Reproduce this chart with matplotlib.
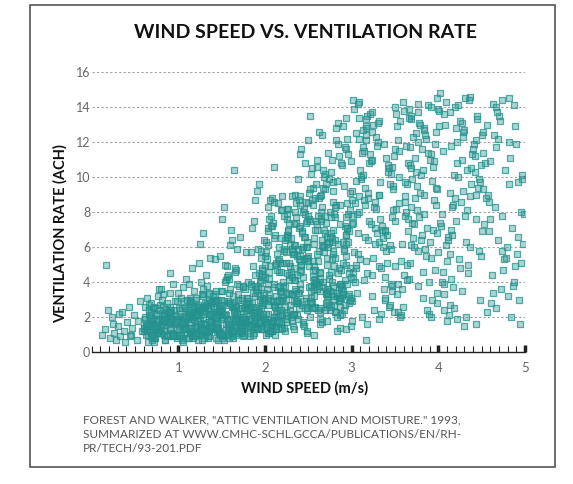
import matplotlib
matplotlib.use("Agg")
import matplotlib.pyplot as plt
from matplotlib.patches import Rectangle
from matplotlib.ticker import MultipleLocator
import numpy as np

# points, grouped by wind speed band (m/s)
wind_a = [0.12, 0.15, 0.17, 0.19, 0.21, 0.23, 0.26, 0.28, 0.3, 0.33, 0.35, 0.37, 0.39,
          0.41, 0.43, 0.45, 0.47, 0.49, 0.52, 0.54, 0.56, 0.58, 0.25, 0.32, 0.44]
vent_a = [1.0, 1.3, 5.0, 2.4, 0.8, 2.0, 1.1, 0.7, 1.5, 0.9, 2.3, 1.2, 0.6,
          1.7, 2.6, 1.0, 1.4, 2.1, 0.7, 1.8, 2.9, 1.2, 1.6, 2.2, 0.9]

wind_b = [0.61,0.83,0.72,0.95,0.66,0.88,0.77,0.64,0.99,0.7,0.86,0.79,0.62,0.93,0.74,0.68,0.9,0.81,0.97,0.65,
          0.76,0.87,0.63,0.92,0.71,0.84,0.98,0.67,0.8,0.94,0.73,0.6,0.89,0.78,0.96,0.69,0.85,0.75,0.91,0.62,
          0.82,0.7,0.95,0.66,0.87,0.77,0.99,0.64,0.9,0.73,0.84,0.68,0.93,0.79,0.61,0.88,0.72,0.97,0.81,0.67,
          0.94,0.76,0.86,0.63,0.91,0.7,0.83,0.98,0.74,0.65,0.89,0.78,0.92,0.69,0.85,0.96,0.71,0.8,0.62,0.9,
          0.75,0.87,0.66,0.94,0.82,0.73,0.99,0.68,0.84,0.77]
vent_b = [1.2,2.1,0.8,1.6,2.7,1.0,1.9,3.1,1.3,0.7,2.4,1.5,1.9,0.9,2.2,1.1,3.4,1.7,2.0,0.6,
          1.4,2.8,1.0,1.8,2.5,1.2,0.8,2.0,1.6,3.9,0.9,1.4,2.3,1.1,2.9,1.7,0.7,2.1,1.3,2.6,
          1.8,1.0,2.4,1.5,0.9,3.2,1.9,1.2,4.5,0.8,2.2,1.6,1.1,2.7,1.4,2.0,0.6,1.7,3.0,1.3,
          0.9,2.5,1.8,1.5,2.2,0.8,1.2,2.9,1.9,1.0,1.6,3.6,1.4,2.3,0.7,2.1,1.8,1.1,2.0,2.6,
          1.3,1.7,2.4,1.0,3.3,1.5,0.9,2.8,1.9,1.2]

wind_c = [1.01,1.22,1.35,1.08,1.29,1.17,1.39,1.04,1.26,1.13,1.33,1.06,1.19,1.37,1.11,1.24,1.02,1.31,1.15,1.28,
          1.09,1.36,1.2,1.05,1.27,1.14,1.38,1.1,1.23,1.32,1.03,1.18,1.3,1.12,1.25,1.07,1.34,1.16,1.21,1.39,
          1.0,1.27,1.14,1.36,1.09,1.23,1.31,1.05,1.18,1.29,1.12,1.38,1.02,1.25,1.16,1.33,1.07,1.2,1.35,1.11,
          1.26,1.04,1.3,1.17,1.37,1.13,1.22,1.08,1.28,1.15,1.34,1.01,1.24,1.19,1.32,1.06,1.27,1.1,1.38,1.21,
          1.14,1.29,1.03,1.36,1.17,1.25,1.09,1.31,1.13,1.2,1.35,1.06,1.23,1.16,1.3,1.02,1.26,1.12,1.39,1.18,
          1.08,1.33,1.21,1.05,1.28,1.15,1.37,1.11,1.24,1.3]
vent_c = [1.4,2.6,0.9,1.8,3.2,1.1,2.2,0.7,1.6,2.9,1.2,3.7,2.0,1.5,0.8,2.4,1.9,1.0,2.8,1.3,
          4.2,1.7,2.3,0.6,1.4,3.0,2.1,1.1,1.8,2.7,0.9,3.5,1.6,2.5,1.2,2.0,0.8,4.8,1.5,2.9,
          1.9,1.0,2.3,3.3,1.4,0.7,2.6,1.7,2.1,1.1,3.9,1.3,2.4,1.8,0.9,2.8,1.5,3.1,1.2,2.0,
          1.6,2.5,0.8,1.9,5.4,1.1,2.2,1.4,3.6,1.7,2.7,1.0,2.1,1.5,4.4,1.3,0.7,2.4,1.8,3.0,
          1.2,2.0,1.6,2.9,0.9,6.2,1.4,2.3,1.9,1.1,3.4,1.7,2.6,1.0,2.2,1.5,4.0,0.8,1.8,2.5,
          1.3,3.8,2.1,1.6,6.8,1.2,2.8,1.9,5.1,2.4]

wind_d = [1.41,1.63,1.52,1.77,1.45,1.68,1.56,1.72,1.48,1.6,1.79,1.43,1.66,1.54,1.74,1.47,1.61,1.7,1.5,1.76,
          1.42,1.65,1.57,1.73,1.46,1.69,1.53,1.78,1.44,1.62,1.58,1.71,1.49,1.67,1.55,1.75,1.4,1.64,1.51,1.79,
          1.45,1.6,1.72,1.47,1.68,1.56,1.74,1.43,1.66,1.53,1.77,1.49,1.63,1.58,1.7,1.42,1.67,1.55,1.75,1.46,
          1.61,1.73,1.5,1.69,1.57,1.78,1.44,1.64,1.52,1.71,1.48,1.66,1.59,1.76,1.41,1.62,1.54,1.73,1.47,1.68,
          1.56,1.79,1.45,1.65,1.51,1.72,1.43,1.6,1.74,1.5,1.67,1.57,1.77,1.42,1.63,1.55,1.7,1.48,1.66,1.59,
          1.75,1.44,1.61,1.53,1.78,1.46,1.69,1.58,1.72,1.4,1.64,1.52,1.76,1.49,1.67,1.56,1.71,1.45,1.62,1.74]
vent_d = [1.3,2.8,0.9,3.6,1.7,2.2,4.3,1.1,2.5,1.9,3.1,0.8,2.0,5.0,1.5,2.7,1.2,3.8,2.3,1.0,
          1.8,4.6,2.9,1.4,0.7,3.3,2.1,5.7,1.6,2.6,1.1,3.0,2.4,1.9,4.1,0.9,2.2,1.5,3.5,2.8,
          1.2,6.1,1.7,2.5,3.9,1.0,2.0,1.4,4.8,2.9,1.6,2.3,3.2,0.8,1.9,5.3,2.6,1.3,3.7,2.1,
          7.0,1.5,2.7,1.1,4.4,1.8,3.0,2.4,1.0,6.6,2.2,1.4,3.4,1.7,2.9,0.9,4.0,2.5,1.2,5.9,
          1.9,3.1,2.3,1.6,7.6,1.3,2.8,3.6,1.1,2.0,4.7,1.5,2.6,3.3,0.8,2.1,1.8,5.5,2.4,1.4,
          3.8,2.0,1.2,8.3,2.7,1.6,3.0,4.2,1.9,2.3,10.4,1.0,2.5,3.5,1.7,4.9,2.2,1.3,6.4,3.1]

wind_e = [1.81,2.03,1.92,2.15,1.86,2.09,1.97,2.19,1.83,2.01,1.94,2.12,1.88,2.06,1.99,2.17,1.85,2.04,1.91,2.14,
          1.82,2.08,1.96,2.2,1.89,2.02,1.93,2.16,1.84,2.11,1.98,2.05,1.87,2.18,1.95,2.1,1.8,2.07,1.9,2.13,
          2.0,1.85,2.19,1.92,2.04,1.83,2.15,1.97,2.09,1.88,2.12,1.94,2.02,1.86,2.17,1.99,2.06,1.81,2.14,1.91,
          2.08,1.96,2.2,1.84,2.01,1.93,2.16,1.89,2.11,1.98,2.03,1.82,2.18,1.95,2.05,1.87,2.13,2.0,1.9,2.1,
          1.85,2.07,1.97,2.19,1.83,2.04,1.92,2.15,1.88,2.02,1.94,2.12,1.8,2.09,1.99,2.17,1.86,2.06,1.91,2.14,
          1.96,2.01,1.84,2.18,1.93,2.08,1.89,2.11,1.98,2.03,1.82,2.16,1.95,2.05,1.87,2.13,2.0,1.9,2.1,1.97]
vent_e = [2.4,1.1,3.7,5.2,1.6,2.9,4.4,1.3,2.1,6.3,3.2,1.0,2.6,4.9,1.8,3.5,7.1,2.2,1.4,5.6,
          2.8,1.2,4.1,3.0,8.7,1.7,2.5,6.0,3.9,1.5,2.0,4.6,1.1,3.3,5.4,2.7,1.9,7.8,3.6,1.3,
          4.3,2.3,1.6,5.9,3.1,0.9,2.6,4.8,1.8,3.8,6.7,2.1,1.4,3.4,5.1,2.9,1.2,4.0,2.4,9.2,
          1.7,3.6,2.2,5.7,1.0,4.5,3.0,1.5,6.5,2.7,3.9,1.9,8.1,2.5,4.2,1.3,3.2,5.0,2.0,10.6,
          2.8,1.6,4.7,3.5,1.1,6.9,2.3,3.7,1.8,5.3,4.0,2.6,1.4,7.4,3.1,2.1,4.9,1.2,3.4,2.9,
          5.8,1.7,3.8,2.4,9.6,1.5,4.4,2.0,3.0,6.1,2.5,4.6,1.3,3.3,7.5,2.2,5.5,1.9,3.7,2.8]

wind_f = [2.21,2.43,2.32,2.55,2.26,2.49,2.37,2.59,2.23,2.41,2.34,2.52,2.28,2.46,2.39,2.57,2.25,2.44,2.31,2.54,
          2.22,2.48,2.36,2.6,2.29,2.42,2.33,2.56,2.24,2.51,2.38,2.45,2.27,2.58,2.35,2.5,2.2,2.47,2.3,2.53,
          2.4,2.25,2.59,2.32,2.44,2.23,2.55,2.37,2.49,2.28,2.52,2.34,2.42,2.26,2.57,2.39,2.46,2.21,2.54,2.31,
          2.48,2.36,2.6,2.24,2.41,2.33,2.56,2.29,2.51,2.38,2.43,2.22,2.58,2.35,2.45,2.27,2.53,2.4,2.3,2.5,
          2.25,2.47,2.37,2.59,2.23,2.44,2.32,2.55,2.28,2.42,2.34,2.52,2.2,2.49,2.39,2.57,2.26,2.46,2.31,2.54,
          2.36,2.41,2.24,2.58,2.33,2.48,2.29,2.51,2.38,2.43,2.22,2.56,2.35,2.45,2.27,2.53,2.4,2.3,2.5,2.37]
vent_f = [3.1,6.8,1.5,4.7,8.2,2.4,5.5,9.6,1.2,3.9,7.3,2.0,5.1,10.8,3.4,6.2,1.7,4.3,8.9,2.8,
          5.8,1.1,7.7,3.6,4.9,11.6,2.2,6.5,3.0,9.1,1.9,5.3,7.0,2.6,4.1,8.5,1.4,6.0,3.3,10.2,
          4.6,2.1,7.5,5.6,1.6,3.8,9.4,2.9,6.3,4.4,13.5,1.3,5.0,7.9,3.2,2.5,6.6,4.0,8.7,1.8,
          5.4,3.5,11.0,2.3,7.2,4.8,1.0,6.1,3.7,9.9,2.7,5.9,4.2,8.0,1.5,6.9,3.1,5.2,2.0,12.1,
          4.5,7.4,2.8,3.9,6.4,1.7,5.7,8.4,3.3,4.7,2.2,9.3,5.1,1.2,7.1,3.6,6.7,2.5,4.3,10.5,
          3.0,5.5,1.9,8.8,4.1,6.0,2.4,7.6,3.4,5.9,1.4,4.9,9.0,2.9,6.5,3.8,11.3,4.6,7.8,2.1]

wind_g = [2.61,2.83,2.72,2.95,2.66,2.89,2.77,2.99,2.63,2.81,2.74,2.92,2.68,2.86,2.79,2.97,2.65,2.84,2.71,2.94,
          2.62,2.88,2.76,3.0,2.69,2.82,2.73,2.96,2.64,2.91,2.78,2.85,2.67,2.98,2.75,2.9,2.6,2.87,2.7,2.93,
          2.8,2.65,2.99,2.72,2.84,2.63,2.95,2.77,2.89,2.68,2.92,2.74,2.82,2.66,2.97,2.79,2.86,2.61,2.94,2.71,
          2.88,2.76,3.0,2.64,2.81,2.73,2.96,2.69,2.91,2.78,2.83,2.62,2.98,2.75,2.85,2.67,2.93,2.8,2.7,2.9,
          2.65,2.87,2.77,2.99,2.63,2.84,2.72,2.95,2.68,2.82,2.74,2.92,2.6,2.89,2.79,2.97,2.66,2.86,2.71,2.94,
          2.76,2.81,2.64,2.98,2.73,2.88,2.69,2.91,2.78,2.83,2.62,2.96,2.75,2.85,2.67,2.93,2.8,2.7,2.9,2.77]
vent_g = [5.2,9.8,2.6,7.1,12.4,3.8,6.5,10.9,1.6,8.3,4.4,11.7,6.0,2.1,9.2,3.3,7.6,13.1,5.0,1.3,
          8.8,4.7,10.3,2.9,6.8,12.8,3.6,7.9,1.9,9.5,5.6,11.2,4.0,8.1,2.4,6.3,10.6,3.1,7.4,13.4,
          4.9,9.0,1.5,6.6,11.9,3.5,8.5,5.3,2.2,10.0,7.2,4.2,12.1,6.1,2.8,9.7,3.9,7.8,5.5,1.8,
          10.8,4.6,8.7,2.5,6.4,11.4,3.2,9.3,5.9,7.0,2.0,12.6,4.8,8.0,3.7,10.4,6.7,2.7,9.6,5.1,
          7.5,1.4,11.0,4.3,8.9,6.2,3.0,12.2,5.7,2.3,9.9,4.1,7.3,10.7,3.4,6.9,1.7,8.4,5.4,11.6,
          2.6,7.7,4.5,9.1,6.0,3.6,10.2,5.8,8.6,1.2,4.0,11.3,6.6,2.9,9.4,5.0,7.9,3.3,12.9,6.3]

wind_h = [3.01,3.28,3.14,3.44,3.07,3.36,3.2,3.49,3.04,3.25,3.17,3.4,3.1,3.32,3.23,3.47,3.06,3.3,3.15,3.42,
          3.02,3.34,3.19,3.5,3.12,3.27,3.16,3.45,3.05,3.38,3.22,3.31,3.09,3.48,3.18,3.37,3.0,3.33,3.13,3.41,
          3.24,3.08,3.46,3.15,3.29,3.03,3.43,3.21,3.35,3.11,3.39,3.17,3.26,3.07,3.47,3.23,3.32,3.01,3.44,3.14,
          3.34,3.19,3.5,3.05,3.27,3.16,3.45,3.1,3.38,3.22,3.29,3.02,3.48,3.18,3.31,3.09,3.42,3.25,3.13,3.36,
          3.06,3.33,3.2,3.49,3.04,3.3,3.15,3.44,3.11,3.27,3.17,3.4,3.0,3.37,3.24,3.46,3.08,3.32,3.14,3.43,
          3.19,3.26,3.05,3.48,3.16,3.35,3.12,3.39,3.21,3.28,3.03,3.45,3.18,3.31,3.09,3.41,3.23,3.13,3.38,3.17]
vent_h = [7.4,12.3,4.1,9.6,14.2,6.0,10.8,2.3,8.5,13.0,0.7,11.1,5.3,9.0,13.7,3.5,7.9,12.0,6.6,10.3,
          14.4,4.8,8.8,11.6,2.0,7.1,12.8,5.9,9.8,3.0,10.9,6.3,13.4,8.1,4.5,11.9,1.8,7.6,10.1,5.1,
          12.6,8.9,3.8,9.4,6.8,13.9,2.6,11.3,7.0,9.9,4.3,12.1,8.3,5.6,10.6,3.2,13.2,7.8,6.1,11.5,
          2.2,9.1,14.0,5.0,8.6,12.4,3.9,10.4,6.9,7.3,11.8,4.6,9.3,13.5,1.9,8.0,10.7,5.4,12.7,6.5,
          3.4,9.7,7.5,11.2,4.0,13.1,8.4,2.7,10.0,6.2,12.9,5.8,9.2,3.6,11.0,7.7,14.3,4.9,8.7,10.5,
          6.4,2.4,12.5,9.5,5.2,7.2,11.4,3.1,13.6,8.2,5.7,10.2,1.6,9.0,12.2,6.7,4.4,11.7,7.0,13.3]

wind_i = [3.51,3.78,3.64,3.94,3.57,3.86,3.7,3.99,3.54,3.75,3.67,3.9,3.6,3.82,3.73,3.97,3.56,3.8,3.65,3.92,
          3.52,3.84,3.69,4.0,3.62,3.77,3.66,3.95,3.55,3.88,3.72,3.81,3.59,3.98,3.68,3.87,3.5,3.83,3.63,3.91,
          3.74,3.58,3.96,3.65,3.79,3.53,3.93,3.71,3.85,3.61,3.89,3.67,3.76,3.57,3.97,3.73,3.82,3.51,3.94,3.64,
          3.84,3.69,3.99,3.55,3.77,3.66,3.95,3.6,3.88,3.72,3.79,3.52,3.98,3.68,3.81,3.59,3.92,3.75,3.63,3.86,
          3.56,3.83,3.7,3.96,3.54,3.8,3.65,3.93,3.61,3.77,3.67,3.9,3.5,3.87,3.74,3.97,3.58,3.82,3.64,3.91,
          3.69,3.76,3.55,3.98,3.66,3.85,3.62,3.89,3.71,3.78]
vent_i = [8.2,13.1,5.0,10.6,2.1,12.2,7.4,14.5,3.9,9.5,11.7,6.3,13.8,4.6,8.8,12.6,2.0,10.1,6.9,11.3,
          3.3,9.0,13.3,5.7,7.8,12.0,4.2,10.9,8.5,14.1,6.0,11.6,2.6,9.3,13.5,7.1,4.9,12.8,8.0,5.4,
          10.3,3.6,11.9,7.6,13.0,2.3,9.8,6.5,12.4,8.9,4.0,10.7,14.2,5.2,8.4,11.1,3.1,13.6,7.0,9.6,
          12.7,6.1,2.8,10.0,5.8,13.9,8.7,4.4,11.4,7.3,9.1,12.9,3.4,10.5,6.7,14.3,2.0,8.1,11.8,5.5,
          13.2,7.9,9.9,4.7,12.1,6.4,10.8,3.0,8.6,13.7,5.1,11.0,7.5,2.4,12.5,9.4,6.2,10.4,4.1,14.0,
          8.3,3.8,11.5,6.8,13.4,5.9,9.7,2.2,12.3,7.7]

wind_j = [4.01,4.28,4.14,4.44,4.07,4.36,4.2,4.49,4.04,4.25,4.17,4.4,4.1,4.32,4.23,4.47,4.06,4.3,4.15,4.42,
          4.02,4.34,4.19,4.5,4.12,4.27,4.16,4.45,4.05,4.38,4.22,4.31,4.09,4.48,4.18,4.37,4.0,4.33,4.13,4.41,
          4.24,4.08,4.46,4.15,4.29,4.03,4.43,4.21,4.35,4.11,4.39,4.17,4.26,4.07,4.47,4.23,4.32,4.01,4.44,4.14,
          4.34,4.19,4.5,4.05,4.27,4.16,4.45,4.1,4.38,4.22,4.29,4.02,4.48,4.18,4.31,4.09,4.42,4.25,4.13,4.36,
          4.06,4.33,4.2,4.49,4.04,4.3,4.15,4.44,4.11,4.27]
vent_j = [13.8,9.2,5.6,12.1,2.4,14.6,7.5,10.7,4.0,13.2,8.4,11.6,1.8,6.3,14.1,9.9,3.3,12.7,7.0,10.3,
          14.8,5.0,8.8,12.4,2.1,11.0,6.7,13.5,4.6,9.6,12.0,7.8,14.3,3.0,10.1,6.0,13.9,8.1,2.7,11.9,
          5.3,13.0,9.4,4.2,12.6,7.2,1.6,10.8,14.4,6.6,11.3,3.7,8.6,13.6,5.8,10.0,2.0,12.9,7.6,9.1,
          4.5,14.0,6.9,11.5,3.5,8.3,13.3,5.2,10.5,1.9,12.3,7.4,9.7,2.5,14.5,6.1,11.2,4.8,13.7,8.9,
          3.9,10.4,12.8,5.5,7.9,1.5,11.8,9.0,6.4,13.1]

wind_k = [4.52,4.78,4.63,4.94,4.57,4.86,4.7,4.98,4.54,4.75,4.67,4.9,4.6,4.82,4.73,4.96,4.56,4.8,4.65,4.92,
          4.51,4.84,4.69,4.99,4.62,4.77,4.66,4.95,4.55,4.88,4.72,4.81,4.59,4.97,4.68,4.87,4.53,4.83,4.61,4.91,
          4.74,4.58,4.93,4.64,4.79,4.52,4.89,4.71,4.85,4.6,4.76,4.66,4.95,4.56,4.82,4.69,4.92,4.63,4.87,4.73]
vent_k = [12.6,5.4,14.2,1.6,9.0,3.8,13.5,6.2,10.8,4.7,2.5,11.9,7.6,14.5,5.8,9.9,13.0,3.2,8.3,6.6,
          11.4,2.0,12.2,7.9,4.4,10.4,14.0,5.1,8.8,12.9,3.6,9.6,6.9,10.1,13.7,4.0,7.3,11.1,2.8,5.6,
          14.4,8.6,3.0,12.4,6.0,9.3,4.9,13.2,7.1,10.9,5.3,11.7,8.0,2.3,12.0,6.4,9.7,3.4,14.1,7.8]

# extra points filling the crowded low-wind band
wind_m = [0.64,1.12,1.57,2.03,0.88,1.34,1.79,0.71,1.45,1.96,1.08,0.79,1.63,2.12,1.27,0.93,1.71,1.18,0.67,1.51,
          2.07,1.39,0.85,1.86,1.23,1.66,0.74,1.03,1.92,1.47,0.97,1.31,1.76,2.15,0.69,1.14,1.58,1.99,1.36,0.82,
          1.69,1.21,0.91,1.83,1.42,2.09,0.76,1.29,1.61,1.05,1.88,0.63,1.54,1.17,2.01,1.38,0.86,1.74,1.25,1.94,
          0.95,1.49,1.11,1.81,0.72,1.33,2.18,1.64,1.02,1.44,0.81,1.91,1.26,1.59,0.68,1.16,1.72,2.05,1.37,0.89,
          1.53,1.07,1.85,1.22,0.77,1.67,1.41,1.97,1.13,0.92,1.77,1.32,2.11,0.65,1.56,1.19,1.89,1.46,0.84,1.28,
          1.62,1.01,2.14,1.35,0.73,1.81,1.48,1.09,1.95,1.24,0.98,1.7,1.4,2.02,0.78,1.15,1.87,1.52,1.06,1.66,
          1.3,0.87,1.93,1.2,1.6,0.7,1.43,2.08,1.1,1.78,1.34,0.94,1.55,1.98,1.18,0.8,1.73,1.27,1.9,1.04,
          1.5,0.66,1.84,1.39,2.16,1.14,1.63,0.9,1.31,1.75,1.0,1.45,2.0,1.23,0.83,1.68,1.36,1.92,1.08,1.57]
vent_m = [1.5,2.2,1.0,2.7,1.8,0.9,2.4,1.3,3.0,1.7,2.0,1.1,2.6,1.4,3.3,1.9,1.2,2.3,1.6,0.8,
          2.9,1.5,2.1,1.0,2.5,1.8,1.3,3.1,2.2,1.1,1.7,2.8,1.4,2.0,0.9,2.4,1.6,3.4,1.2,2.6,
          1.9,1.0,2.3,1.5,2.9,1.8,1.1,2.5,1.3,2.0,3.2,1.6,2.2,0.8,1.4,2.7,1.9,1.2,2.4,1.7,
          1.0,3.0,2.1,1.5,2.6,1.3,1.8,2.3,0.9,3.5,1.6,2.0,1.2,2.8,1.9,1.4,2.5,1.1,2.2,1.7,
          0.7,2.9,1.5,2.1,1.8,1.0,2.6,1.3,3.1,2.4,1.9,1.2,2.0,1.6,2.7,0.9,2.3,1.4,1.8,3.3,
          1.1,2.5,1.7,2.2,1.3,2.9,1.0,2.0,1.5,2.6,1.8,1.2,3.2,1.6,2.4,1.4,2.1,1.9,0.8,2.7,
          1.3,2.3,1.7,1.1,2.8,1.5,2.0,1.2,3.0,1.8,2.5,1.0,1.6,2.2,1.4,3.6,1.9,1.3,2.4,1.7,
          1.1,2.1,2.6,1.5,1.8,2.9,1.2,2.3,1.6,2.0,3.4,1.4,1.9,2.7,1.0,2.2,1.7,1.3,2.5,1.8]

# extra points in the busy middle band
wind_n = [2.05,2.47,2.81,2.23,2.66,3.02,2.34,1.94,2.58,2.91,2.12,2.72,2.39,2.97,2.18,2.53,2.86,2.27,2.62,2.01,
          2.44,2.77,3.07,2.31,2.69,2.09,2.55,2.88,2.36,2.14,2.74,2.49,2.95,2.21,2.6,2.83,2.41,1.97,2.67,2.29,
          2.52,2.9,2.16,2.79,2.45,3.05,2.25,2.63,2.07,2.85,2.38,2.71,2.11,2.57,2.93,2.33,2.76,2.02,2.5,2.87,
          2.2,2.64,2.43,2.99,2.28,2.7,2.13,2.56,2.82,2.37,1.99,2.61,2.46,2.89,2.24,2.75,2.08,2.51,2.94,2.32,
          2.68,2.17,2.42,2.8,2.04,2.59,2.35,2.92,2.26,2.73,2.48,2.1,2.65,2.84,2.3,2.54,3.0,2.19,2.78,2.4,
          2.06,2.63,2.96,2.37,2.22,2.71,2.5,2.87,2.15,2.58,2.44,2.81,2.03,2.67,2.33,2.9,2.27,2.55,2.76,2.12,
          2.49,2.98,2.39,2.62,2.2,2.85,2.45,2.69,2.08,2.53,2.31,2.79,2.6,2.95,2.24,2.74,2.41,2.18,2.66,2.88,
          2.36,2.57,2.01,2.83,2.47,2.28,2.72,2.52,2.93,2.35]
vent_n = [7.6,3.1,5.4,2.6,8.3,4.2,6.1,3.0,7.0,2.4,5.0,3.6,
          8.7,4.5,6.5,2.8,7.3,3.4,5.8,2.2,8.0,4.0,6.8,3.3,
          7.8,2.9,5.2,3.9,8.5,4.7,6.3,2.5,7.1,3.7,5.6,3.2,
          8.9,4.3,6.0,2.7,7.5,3.5,5.3,3.8,8.2,4.8,6.6,2.3,
          7.2,3.0,5.9,3.4,8.6,4.1,6.2,2.9,7.7,3.6,5.5,2.6,
          8.1,4.6,6.9,3.1,7.4,2.8,5.1,3.7,8.4,4.4,6.4,2.4,
          7.9,3.3,5.7,3.5,8.8,4.9,6.7,2.2,7.0,3.8,5.0,3.0,
          8.3,4.0,6.1,2.7,7.6,3.2,5.4,3.9,8.0,4.5,6.5,2.5,
          7.3,2.9,5.8,3.6,8.7,4.2,6.3,2.8,7.8,3.4,5.2,3.1,
          8.5,4.7,6.0,2.3,7.1,3.7,5.6,3.3,8.2,4.3,6.8,2.6,
          7.5,3.0,5.3,3.8,8.9,4.8,6.6,2.4,7.2,3.5,5.9,3.2,
          7.0,3.9,5.1,2.7,8.4,4.6,6.4,3.1,7.4,2.5,5.7,3.4,
          8.6,4.1,6.2,2.9,7.7,3.6]

wind = np.concatenate([wind_a, wind_b, wind_c, wind_d, wind_e, wind_f, wind_g,
                       wind_h, wind_i, wind_j, wind_k, wind_m, wind_n])
vent = np.concatenate([vent_a, vent_b, vent_c, vent_d, vent_e, vent_f, vent_g,
                       vent_h, vent_i, vent_j, vent_k, vent_m, vent_n])

y_ticks = [0, 2, 4, 6, 8, 10, 12, 14, 16]
x_ticks = [1, 2, 3, 4, 5]

W, H = 573, 484
fig = plt.figure(figsize=(W / 100, H / 100), dpi=100)
plt.rcParams['font.family'] = ['Lato', 'DejaVu Sans']

# outer frame
fig.patches.append(Rectangle((30 / W, 1 - 467 / H), 525 / W, 462 / H, transform=fig.transFigure,
                             fill=False, edgecolor='#555555', linewidth=1.2))

ax = fig.add_axes([91.6 / W, 1 - 352 / H, (525 - 91.6) / W, (352 - 72) / H])
ax.scatter(wind, vent, marker='s', s=21, facecolor=(0.17, 0.6, 0.58, 0.4),
           edgecolor=(0.15, 0.57, 0.55, 0.75), linewidth=0.9, zorder=3)

ax.set_xlim(0, 5)
ax.set_ylim(0, 16)
for s in ['top', 'right', 'left']:
    ax.spines[s].set_visible(False)
ax.spines['bottom'].set_color('#222222')
ax.spines['bottom'].set_linewidth(1.0)

ax.set_xticks(x_ticks)
ax.xaxis.set_minor_locator(MultipleLocator(0.1))
ax.tick_params(axis='x', which='major', direction='in', length=5, width=2.5, color='#222222',
               labelsize=9.5, labelcolor='#666666', pad=7)
ax.tick_params(axis='x', which='minor', direction='in', length=4, width=0.8, color='#222222')

ax.set_yticks(y_ticks)
ax.tick_params(axis='y', length=0, labelsize=9, labelcolor='#666666', pad=1)
for yv in y_ticks[1:]:
    ax.axhline(yv, color='#a0a0a0', linewidth=0.8, linestyle=(0, (2, 2)), zorder=1)

fig.text(305 / W, 1 - 33 / H, 'WIND SPEED VS. VENTILATION RATE', ha='center', va='center',
         fontsize=14, fontweight='bold', color='#111111')
fig.text(305 / W, 1 - 388 / H, 'WIND SPEED (m/s)', ha='center', va='center',
         fontsize=10.5, fontweight='bold', color='#111111')
fig.text(60 / W, 1 - 234 / H, 'VENTILATION RATE (ACH)', ha='center', va='center', rotation=90,
         fontsize=10.5, fontweight='bold', color='#111111')
fig.text(83 / W, 1 - 414 / H,
         'FOREST AND WALKER, "ATTIC VENTILATION AND MOISTURE." 1993,\n'
         'SUMMARIZED AT WWW.CMHC-SCHL.GCCA/PUBLICATIONS/EN/RH-\n'
         'PR/TECH/93-201.PDF',
         ha='left', va='top', fontsize=8.5, color='#555555', linespacing=1.4)

fig.savefig('out.png', dpi=100)
